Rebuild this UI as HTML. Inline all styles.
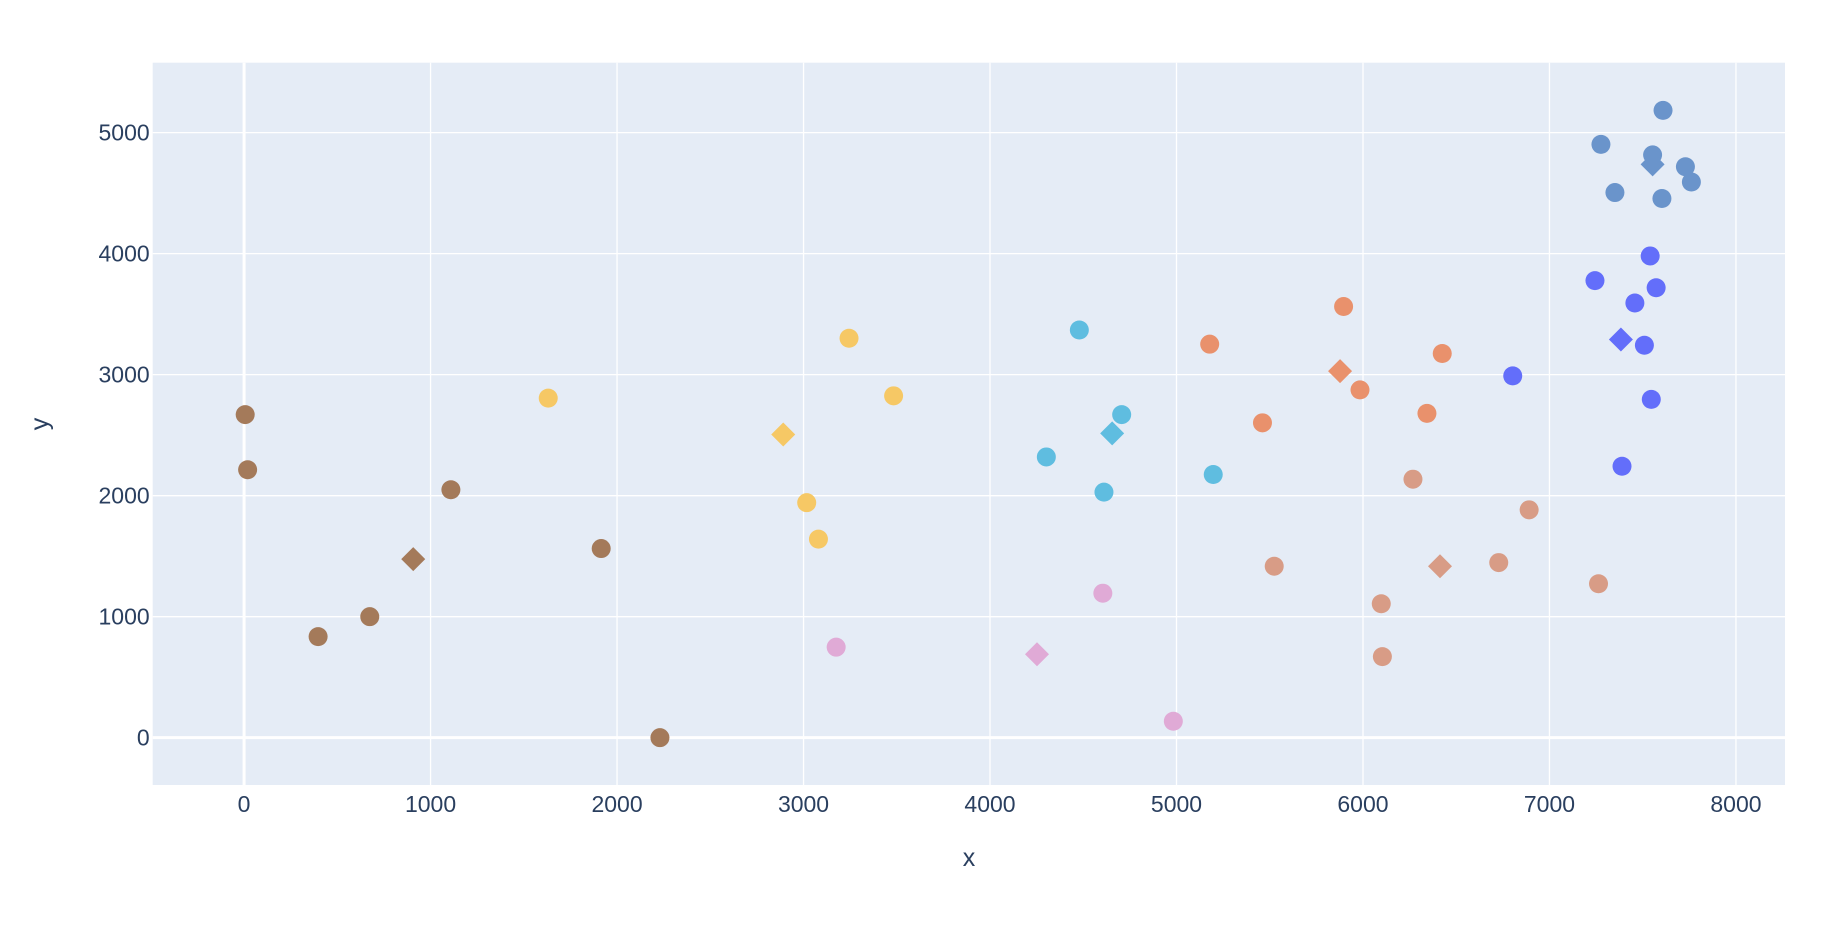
<!DOCTYPE html>
<html><head><meta charset="utf-8"><style>
body{margin:0;background:#fff;font-family:"Liberation Sans",sans-serif;}
svg text{font-family:"Liberation Sans",sans-serif;fill:#2a3f5f;}
</style></head><body>
<svg id="chart" width="1842" height="936" xmlns="http://www.w3.org/2000/svg">
<rect x="0" y="0" width="1842" height="936" fill="#fff"/>
<rect x="152.7" y="62.7" width="1632.3" height="722.3" fill="#e5ecf6"/>
<g id="grid"></g><g id="marks"></g><g id="ticks"></g>
<text x="969" y="866" font-size="25" text-anchor="middle">x</text>
<text x="48" y="424" font-size="25" text-anchor="middle" transform="rotate(-90 48 424)">y</text>
</svg>
<script>
const xTicks=[0,1000,2000,3000,4000,5000,6000,7000,8000];
const yTicks=[0,1000,2000,3000,4000,5000];
const groupColors=["#a47a5a","#f6c865","#e0aad6","#5fbde0","#e9916c","#d89c86","#636efa","#6a94cb"];
const xBrown=[6,19,397,674,1109,1915,2230,907];
const yBrown=[2670,2214,835,1000,2049,1563,0,1476];
const xYellow=[1631,3244,3483,3017,3080,2891];
const yYellow=[2806,3301,2825,1942,1641,2505];
const xPink=[3175,4605,4983,4252];
const yPink=[748,1194,136,689];
const xCyan=[4479,4302,4611,4706,5197,4655];
const yCyan=[3369,2320,2029,2670,2175,2515];
const xOrange=[5178,5461,5896,5984,6343,6425,5877];
const yOrange=[3252,2602,3563,2874,2680,3175,3029];
const xTan=[5524,6098,6104,6268,6728,6891,7263,6413];
const yTan=[1417,1107,670,2136,1447,1883,1272,1417];
const xBlue=[6803,7244,7458,7540,7572,7509,7546,7389,7383];
const yBlue=[2990,3777,3592,3981,3718,3243,2796,2243,3291];
const xSteel=[7609,7276,7553,7729,7761,7351,7603,7553];
const ySteel=[5184,4903,4816,4718,4592,4505,4456,4738];
const groupNames=["brown","yellow","pink","cyan","orange","tan","blue","steel"];
const X=[xBrown,xYellow,xPink,xCyan,xOrange,xTan,xBlue,xSteel];
const Y=[yBrown,yYellow,yPink,yCyan,yOrange,yTan,yBlue,ySteel];
const L=152.7,R=1785,T=62.7,B=785,xmin=-490,xmax=8263,ymin=-391,ymax=5578;
function sx(v){return L+(v-xmin)/(xmax-xmin)*(R-L);}
function sy(v){return B-(v-ymin)/(ymax-ymin)*(B-T);}
const NS="http://www.w3.org/2000/svg";
const grid=document.getElementById('grid'),marks=document.getElementById('marks'),ticks=document.getElementById('ticks');
function mk(tag,at,parent){const e=document.createElementNS(NS,tag);for(const k in at)e.setAttribute(k,at[k]);parent.appendChild(e);return e;}
xTicks.forEach(t=>{
 const l=mk('line',{x1:sx(t),x2:sx(t),y1:T,y2:B,stroke:'#fff','stroke-width':t===0?3:1.3},grid);
 
 
 const tx=mk('text',{x:sx(t),y:B+27,'font-size':23,'text-anchor':'middle'},ticks);
 tx.textContent=t;
 
 
});
yTicks.forEach(t=>{
 const l=mk('line',{x1:L,x2:R,y1:sy(t),y2:sy(t),stroke:'#fff','stroke-width':t===0?3:1.3},grid);
 
 
 const tx=mk('text',{x:L-3,y:sy(t)+8,'font-size':23,'text-anchor':'end'},ticks);
 tx.textContent=t;
 
 
});
X.forEach((xs,g)=>{
 xs.forEach((xv,i)=>{
  const cx=sx(xv),cy=sy(Y[g][i]);
  let e;
  if(i===xs.length-1){
   const r=12;
   e=mk('polygon',{points:`${cx},${cy-r} ${cx+r},${cy} ${cx},${cy+r} ${cx-r},${cy}`,fill:groupColors[g]},marks);
   
  }else{
   e=mk('circle',{cx:cx,cy:cy,r:9.5,fill:groupColors[g]},marks);
   
  }
  
 });
});
</script>
</body></html>
